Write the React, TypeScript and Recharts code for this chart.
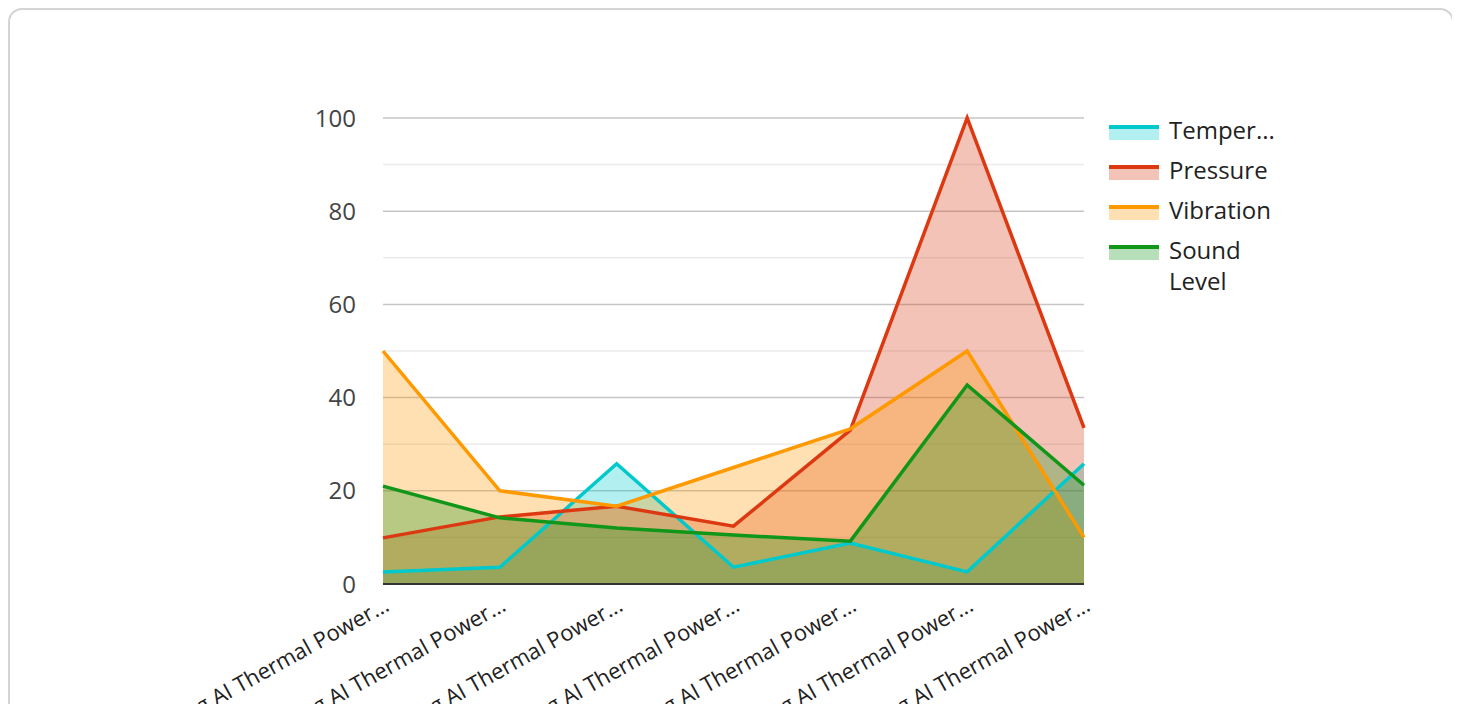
import { ComposedChart, Area, Line, XAxis, YAxis, CartesianGrid } from 'recharts'

const plants = [
  'Datang AI Thermal Power Plant 1',
  'Datang AI Thermal Power Plant 2',
  'Datang AI Thermal Power Plant 3',
  'Datang AI Thermal Power Plant 4',
  'Datang AI Thermal Power Plant 5',
  'Datang AI Thermal Power Plant 6',
  'Datang AI Thermal Power Plant 7',
]
const temperature = [2.6, 3.6, 25.8, 3.6, 8.8, 2.6, 25.8]
const pressure = [9.9, 14.4, 16.7, 12.4, 33, 100, 33.5]
const vibration = [50, 20, 16.7, 25, 33.3, 50, 10]
const soundLevel = [21, 14.2, 12, 10.5, 9.2, 42.7, 21.2]
const yTicks = [0, 10, 20, 30, 40, 50, 60, 70, 80, 90, 100]

const series = [
  { key: 'temperature', name: 'Temperature', color: '#00c9cc' },
  { key: 'pressure', name: 'Pressure', color: '#dc3912' },
  { key: 'vibration', name: 'Vibration', color: '#ff9900' },
  { key: 'soundLevel', name: 'Sound Level', color: '#109618' },
]

const data = plants.map((name, i) => ({
  name,
  temperature: temperature[i],
  pressure: pressure[i],
  vibration: vibration[i],
  soundLevel: soundLevel[i],
}))

const font = '"Open Sans", "Noto Sans", sans-serif'

const shortLabel = (s: string) => (s.length > 23 ? s.slice(0, 23) + '...' : s)

const legendWords = (s: string) =>
  s.split(' ').map((w) => (w.length > 9 ? w.slice(0, 6) + '...' : w))

function GridLine(props: any) {
  const { x1, x2, y1, y2, index } = props
  const major = index % 2 === 0
  return (
    <line
      key={`g-${index}`}
      x1={x1}
      x2={x2}
      y1={y1}
      y2={y2}
      stroke={major ? '#c6c6c6' : '#ebebeb'}
      strokeWidth={1.5}
    />
  )
}

export default function App() {
  return (
    <div
      style={{
        position: 'relative',
        width: 1442,
        height: 720,
        border: '2px solid #d4d4d4',
        borderRadius: 14,
        background: '#fff',
        fontFamily: font,
      }}
    >
      <ComposedChart
        width={1440}
        height={720}
        data={data}
        margin={{ top: 108, left: 313, right: 366, bottom: 86 }}
      >
        <CartesianGrid vertical={false} horizontal={GridLine} />
        <XAxis
          dataKey="name"
          interval={0}
          tickLine={false}
          axisLine={{ stroke: '#333', strokeWidth: 2 }}
          angle={-29}
          textAnchor="end"
          height={60}
          tickMargin={6}
          tickFormatter={shortLabel}
          tick={{ fill: '#222', fontSize: 22, fontFamily: font }}
        />
        <YAxis
          width={60}
          domain={[0, 100]}
          ticks={yTicks}
          interval={0}
          axisLine={false}
          tickLine={false}
          tickSize={0}
          tickMargin={27}
          tickFormatter={(v: number) => (v % 20 === 0 ? String(v) : '')}
          tick={{ fill: '#444', fontSize: 24, fontFamily: font }}
        />
        {series.map((s) => (
          <Area
            key={`a-${s.key}`}
            dataKey={s.key}
            type="linear"
            stroke="none"
            fill={s.color}
            fillOpacity={0.3}
            isAnimationActive={false}
          />
        ))}
        {series.map((s) => (
          <Line
            key={`l-${s.key}`}
            dataKey={s.key}
            type="linear"
            stroke={s.color}
            strokeWidth={3.5}
            dot={false}
            activeDot={false}
            isAnimationActive={false}
          />
        ))}
      </ComposedChart>
      <div style={{ position: 'absolute', left: 1099, top: 104 }}>
        {series.map((s) => (
          <div key={s.key} style={{ display: 'flex', alignItems: 'flex-start', marginBottom: 9 }}>
            <div style={{ width: 50, marginTop: 11, marginRight: 10 }}>
              <div style={{ height: 4, background: s.color }} />
              <div style={{ height: 11, background: s.color, opacity: 0.3 }} />
            </div>
            <div style={{ fontSize: 24, lineHeight: '31px', color: '#222', width: 120 }}>
              {legendWords(s.name).map((w, i) => (
                <div key={i}>{w}</div>
              ))}
            </div>
          </div>
        ))}
      </div>
    </div>
  )
}
